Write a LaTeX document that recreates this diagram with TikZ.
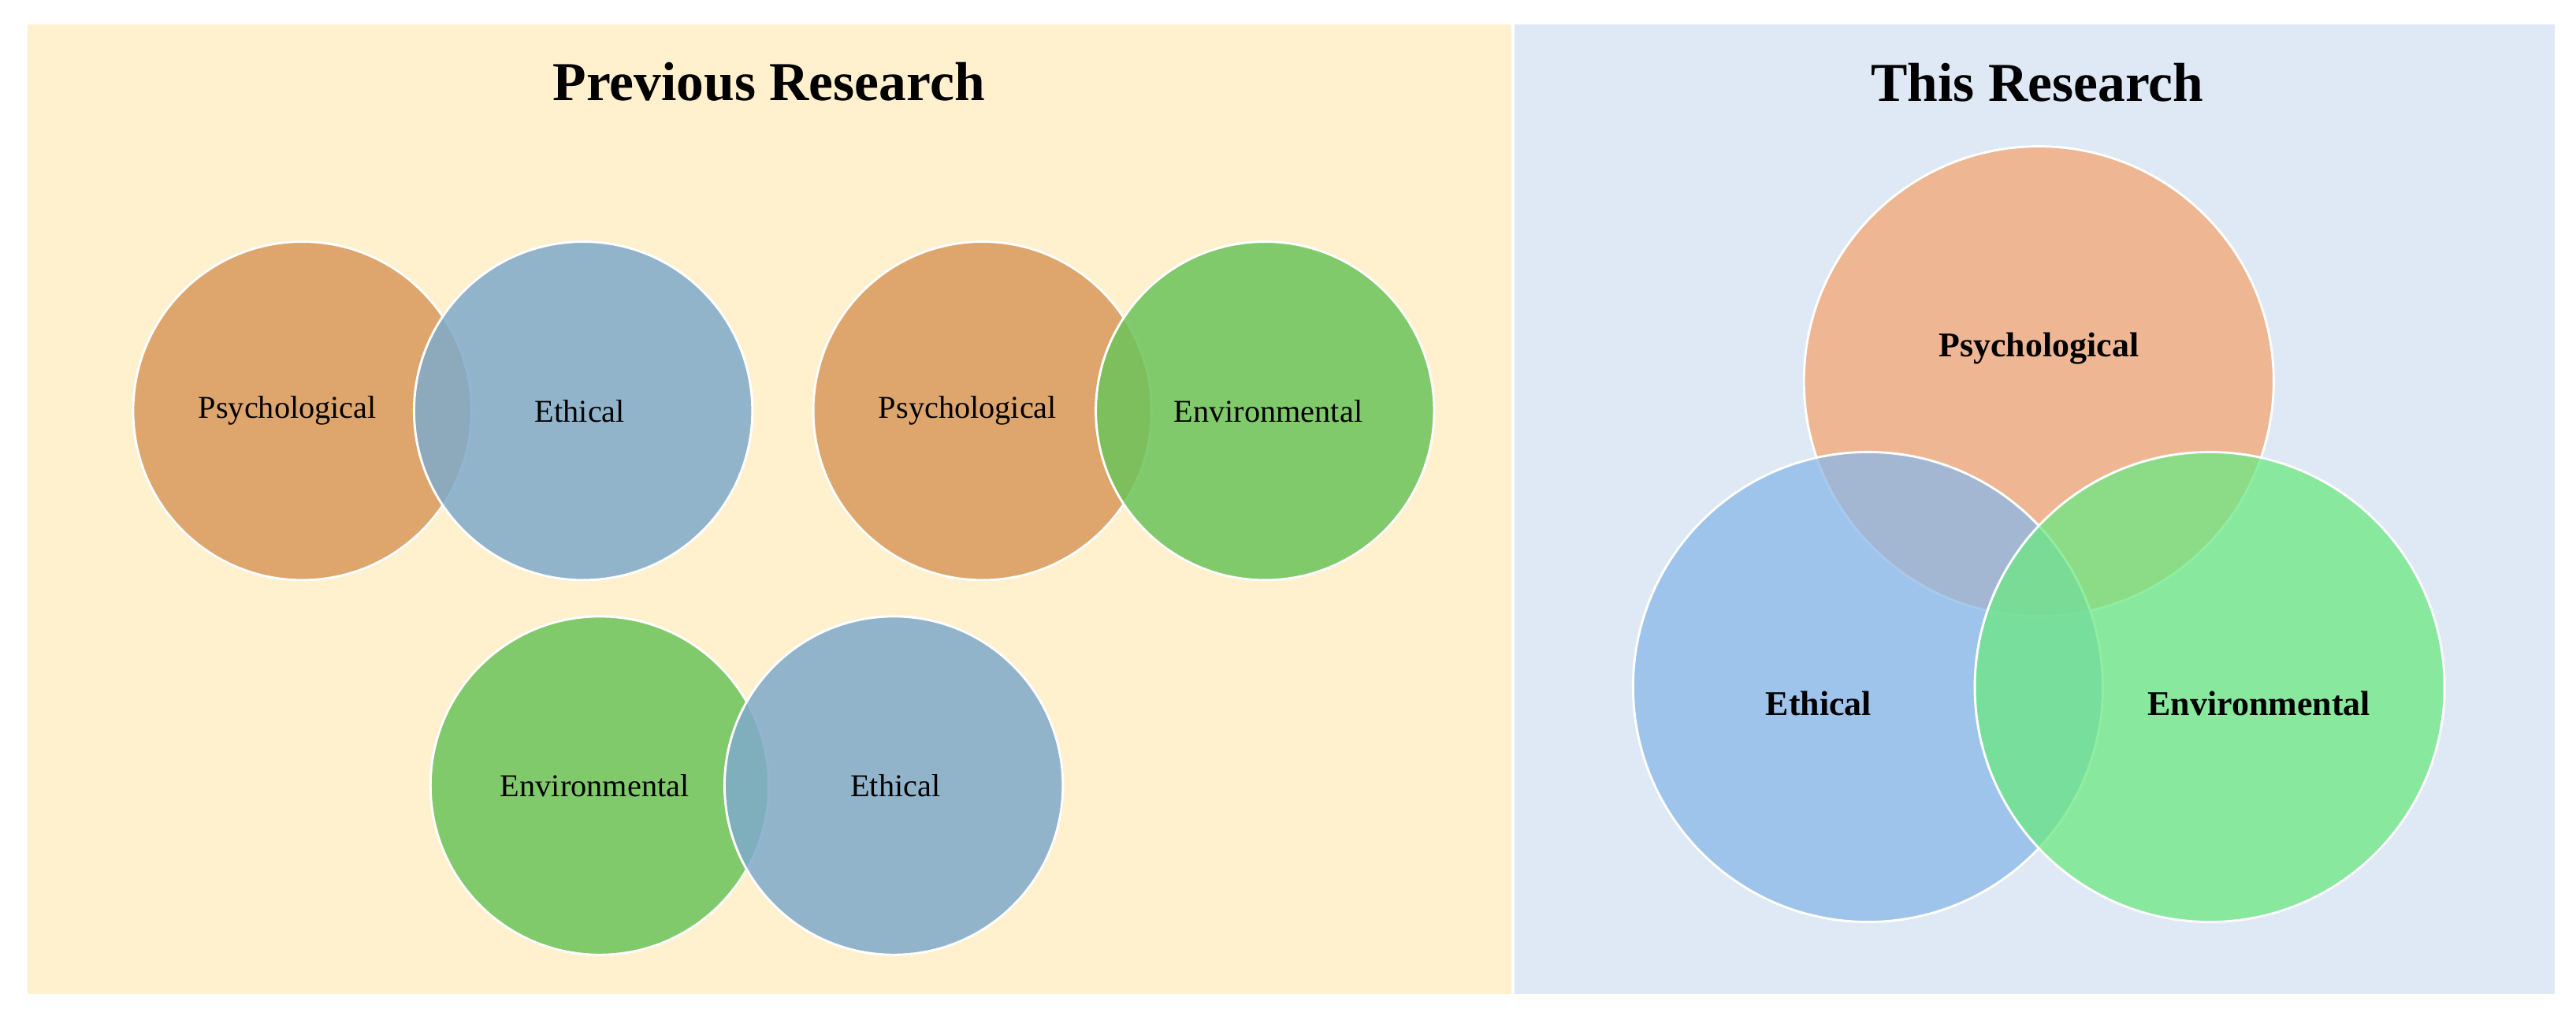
\documentclass[tikz,border=0pt]{standalone}
\usepackage{fontspec}
\setmainfont{Liberation Serif}
\usetikzlibrary{positioning}
\definecolor{panelyellow}{HTML}{FFF0CE}
\definecolor{panelblue}{HTML}{DEE9F5}
\definecolor{psyc}{HTML}{D99A5C}
\definecolor{ethc}{HTML}{7FAACB}
\definecolor{envc}{HTML}{6CC45A}
\definecolor{psycb}{HTML}{F4A672}
\definecolor{ethcb}{HTML}{8AB8E8}
\definecolor{envcb}{HTML}{6CE882}
\begin{document}
\begin{tikzpicture}[
    x=0.02cm, y=-0.02cm,
    small/.style={circle, draw=white, line width=0.8pt, minimum size=4.12cm, fill opacity=0.85, text opacity=1},
    big/.style={circle, draw=white, line width=0.8pt, minimum size=5.72cm, fill opacity=0.75},
    lbl/.style={font=\fontsize{11}{13}\selectfont},
    blbl/.style={font=\fontsize{12}{14}\selectfont\bfseries},
    title/.style={font=\fontsize{19}{22}\selectfont\bfseries}
]
    \useasboundingbox[fill=white] (0,0) rectangle (1568,623);
    % Panels
    \fill[panelyellow] (17,15) rectangle (920,605);
    \fill[panelblue] (922,15) rectangle (1555,605);
    \node[title] (prevtitle) at (468,50) {Previous Research};
    \node[title] (thistitle) at (1240,50) {This Research};

    % Previous research pairs
    \node[small, fill=psyc] (psyA) at (184,250) {};
    \node[small, fill=ethc] (ethA) at (355,250) {};
    \node[small, fill=psyc] (psyB) at (598,250) {};
    \node[small, fill=envc] (envB) at (770,250) {};
    \node[small, fill=envc] (envC) at (365,478) {};
    \node[small, fill=ethc] (ethC) at (544,478) {};

    \node[lbl] at (175,250) {Psychological};
    \node[lbl] at (353,250) {Ethical};
    \node[lbl] at (589,250) {Psychological};
    \node[lbl] at (772,250) {Environmental};
    \node[lbl] at (362,478) {Environmental};
    \node[lbl] at (545,478) {Ethical};

    % This research
    \node[big, fill=psycb] (psyD) at (1241,232) {};
    \node[big, fill=ethcb] (ethD) at (1137,418) {};
    \node[big, fill=envcb] (envD) at (1345,418) {};

    \node[blbl] at (1241,212) {Psychological};
    \node[blbl] at (1107,428) {Ethical};
    \node[blbl] at (1375,428) {Environmental};
\end{tikzpicture}
\end{document}
